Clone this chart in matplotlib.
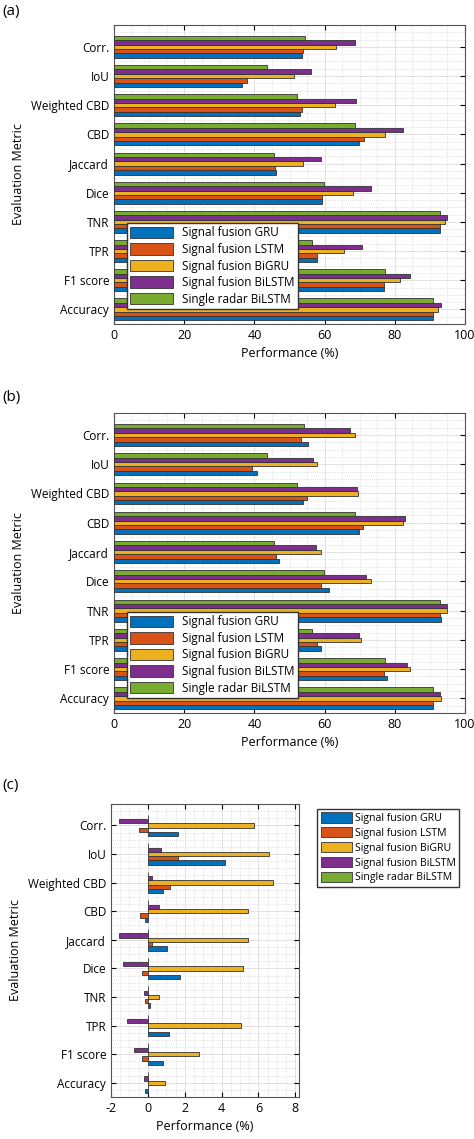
import matplotlib
matplotlib.use("Agg")
import matplotlib.pyplot as plt
import numpy as np
from matplotlib.ticker import MultipleLocator

plt.rcParams['font.family'] = ['Open Sans', 'DejaVu Sans']
plt.rcParams['axes.unicode_minus'] = False

categories = ["Accuracy", "F1 score", "TPR", "TNR", "Dice", "Jaccard", "CBD", "Weighted CBD", "IoU", "Corr."]
series = ["Signal fusion GRU", "Signal fusion LSTM", "Signal fusion BiGRU", "Signal fusion BiLSTM", "Single radar BiLSTM"]
colors = ["#0072BD", "#D95319", "#EDB120", "#7E2F8E", "#77AC30"]

a_gru    = [90.9, 76.9, 57.8, 93.0, 59.4, 46.2, 69.9, 53.1, 36.5, 53.7]
a_lstm   = [90.9, 77.0, 57.8, 93.0, 59.4, 46.0, 71.2, 53.7, 37.8, 53.8]
a_bigru  = [92.3, 81.6, 65.5, 94.4, 68.1, 53.8, 77.2, 62.9, 51.4, 63.2]
a_bilstm = [93.3, 84.3, 70.7, 95.0, 73.1, 59.0, 82.3, 69.0, 56.1, 68.7]
a_single = [90.8, 77.3, 56.5, 93.0, 59.9, 45.5, 68.7, 52.0, 43.5, 54.3]

b_gru    = [90.8, 77.7, 58.9, 93.1, 61.2, 47.1, 69.8, 53.8, 40.6, 55.3]
b_lstm   = [90.9, 76.8, 57.9, 93.0, 59.0, 46.2, 70.8, 54.9, 39.4, 53.4]
b_bigru  = [93.2, 84.4, 70.5, 95.0, 73.1, 59.0, 82.4, 69.4, 57.9, 68.8]
b_bilstm = [93.0, 83.6, 69.7, 94.9, 71.7, 57.6, 82.8, 69.1, 56.8, 67.1]
b_single = [90.8, 77.3, 56.5, 93.0, 59.9, 45.5, 68.7, 52.0, 43.5, 54.2]

c_gru    = [-0.13, 0.82, 1.13, 0.09, 1.75, 1.02, -0.13, 0.82, 4.20, 1.65]
c_lstm   = [0.0, -0.30, 0.0, -0.13, -0.30, 0.20, -0.42, 1.22, 1.65, -0.50]
c_bigru  = [0.93, 2.78, 5.04, 0.62, 5.15, 5.45, 5.45, 6.78, 6.58, 5.76]
c_bilstm = [-0.22, -0.73, -1.15, -0.22, -1.35, -1.55, 0.62, 0.20, 0.73, -1.55]
c_single = [0.0] * 10

fig = plt.figure(figsize=(4.74, 11.39), dpi=100)
W, H = 474, 1139

def add_ax(l, t, r, b):
    return fig.add_axes([l / W, 1 - b / H, (r - l) / W, (b - t) / H])

def draw(ax, data, xlim, major, minor):
    y = np.arange(len(categories))
    h = 0.15
    for i, (vals, c, name) in enumerate(zip(data, colors, series)):
        ax.barh(y + (i - 2) * h, vals, height=h, color=c, edgecolor="#333333",
                linewidth=0.6, label=name, zorder=3)
    ax.set_yticks(y)
    ax.set_yticklabels(categories, fontsize=8.5)
    ax.set_ylim(-0.5, len(categories) - 0.5)
    ax.set_xlim(*xlim)
    ax.xaxis.set_major_locator(MultipleLocator(major))
    ax.xaxis.set_minor_locator(MultipleLocator(minor))
    ax.set_yticks(np.arange(-0.5, len(categories), 0.25), minor=True)
    ax.grid(True, which="major", color="#dddddd", linewidth=0.6, zorder=0)
    ax.grid(True, which="minor", color="#cccccc", linestyle=":", linewidth=0.5, zorder=0)
    ax.tick_params(axis="x", labelsize=9)
    ax.tick_params(which="minor", length=0)
    ax.tick_params(direction="in", top=True, right=True)
    for s in ax.spines.values():
        s.set_color("#555555")
        s.set_linewidth(0.8)
    ax.set_xlabel("Performance (%)", fontsize=9)
    ax.set_ylabel("Evaluation Metric", fontsize=9)

leg_kw = dict(frameon=True, fancybox=False, edgecolor="#333333", framealpha=1,
              borderpad=0.3, labelspacing=0.3, handleheight=1.1)

axa = add_ax(114, 25, 465, 324)
draw(axa, [a_gru, a_lstm, a_bigru, a_bilstm, a_single], (0, 100), 20, 5)
axa.legend(loc="lower left", bbox_to_anchor=(0.02, 0.03), fontsize=8.5,
           handlelength=3.6, **leg_kw)

axb = add_ax(114, 413, 465, 713)
draw(axb, [b_gru, b_lstm, b_bigru, b_bilstm, b_single], (0, 100), 20, 5)
axb.legend(loc="lower left", bbox_to_anchor=(0.02, 0.03), fontsize=8.5,
           handlelength=3.6, **leg_kw)

axc = add_ax(111, 804, 299, 1097)
draw(axc, [c_gru, c_lstm, c_bigru, c_bilstm, c_single], (-2, 8.2), 2, 0.5)
axc.legend(loc="upper left", bbox_to_anchor=(1.07, 1.0), fontsize=7.6,
           handlelength=3.0, handletextpad=0.3, **leg_kw)

fig.text(2 / W, 1 - 12 / H, "(a)", fontsize=11, va="center")
fig.text(2 / W, 1 - 398 / H, "(b)", fontsize=11, va="center")
fig.text(2 / W, 1 - 785 / H, "(c)", fontsize=11, va="center")

fig.savefig("out.png", dpi=100)
